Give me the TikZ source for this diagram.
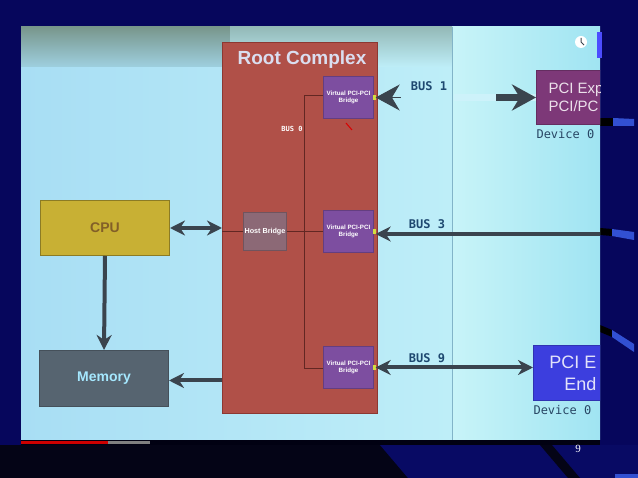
\documentclass[tikz,border=0pt]{standalone}
\usepackage{fontspec}
\setmainfont{Liberation Sans}
\setmonofont{DejaVu Sans Mono}
\newfontfamily\serifnum{Liberation Serif}
\usetikzlibrary{arrows.meta,calc}
\definecolor{navy}{RGB}{6,6,92}
\definecolor{bottomdark}{RGB}{4,4,22}
\definecolor{bandblue}{RGB}{8,10,100}
\definecolor{screenL}{RGB}{168,222,244}
\definecolor{screenR}{RGB}{190,238,248}
\definecolor{panelL}{RGB}{200,244,248}
\definecolor{panelR}{RGB}{160,228,242}
\definecolor{stripTop}{RGB}{120,150,140}
\definecolor{rcred}{RGB}{176,80,72}
\definecolor{rcedge}{RGB}{140,56,50}
\definecolor{rctitle}{RGB}{218,222,240}
\definecolor{bridgepurple}{RGB}{125,78,160}
\definecolor{hostgrey}{RGB}{140,105,118}
\definecolor{arrowgrey}{RGB}{58,68,78}
\definecolor{cpuyellow}{RGB}{200,176,52}
\definecolor{cputext}{RGB}{130,95,40}
\definecolor{memgrey}{RGB}{86,100,112}
\definecolor{memtext}{RGB}{165,232,255}
\definecolor{pcixpurple}{RGB}{125,56,120}
\definecolor{epblue}{RGB}{60,62,222}
\definecolor{bustext}{RGB}{30,72,112}
\definecolor{devtext}{RGB}{40,70,100}
\definecolor{lightshaft}{RGB}{205,242,250}
\definecolor{divider}{RGB}{130,180,200}
\definecolor{glare}{RGB}{50,80,210}
\definecolor{pinyellow}{RGB}{210,224,64}
\tikzset{
  box/.style={draw, line width=1pt, rectangle, anchor=north west, inner sep=0pt},
  bridgebox/.style={box, draw=bridgepurple!80!black, fill=bridgepurple, minimum width=50pt, minimum height=42pt,
    text=white, font=\fontsize{6.2}{7.5}\selectfont\bfseries, align=center},
  bigarrow/.style={draw=arrowgrey, line width=4pt},
  thinline/.style={draw=rcedge!70!black, line width=0.8pt},
  bustag/.style={font=\fontsize{12}{12}\selectfont\ttfamily\bfseries, text=bustext},
  devtag/.style={font=\fontsize{12}{12}\selectfont\ttfamily, text=devtext, anchor=west},
  pin/.style={fill=pinyellow, minimum width=3pt, minimum height=5pt, inner sep=0pt, rectangle},
  headS/.tip={Stealth[length=15pt,width=15pt]},
  headB/.tip={Stealth[length=24pt,width=26pt]}
}
\begin{document}
\begin{tikzpicture}[x=1pt,y=-1pt]
\useasboundingbox (0,0) rectangle (638,478);
% surroundings
\fill[navy] (0,0) rectangle (638,478);
\fill[bottomdark] (0,445) rectangle (638,478);
\fill[bandblue] (380,445) -- (638,445) -- (638,478) -- (408,478) -- cycle;
\fill[bottomdark] (540,445) -- (552,445) -- (580,478) -- (568,478) -- cycle;
\fill[glare] (615,474) rectangle (638,478);
\fill[black] (600,118) rectangle (613,126);
\fill[glare] (613,118) -- (634,119) -- (634,126) -- (613,126) -- cycle;
\fill[black] (600,228) -- (612,229) -- (612,236) -- (600,235) -- cycle;
\fill[glare] (612,229) -- (634,232) -- (634,240) -- (612,236) -- cycle;
\fill[black] (600,325) -- (612,330) -- (612,337) -- (600,332) -- cycle;
\fill[glare] (612,330) -- (634,344) -- (634,352) -- (612,337) -- cycle;
% screen
\shade[left color=screenL, right color=screenR] (21,27) rectangle (452,440);
\shade[left color=panelL, right color=panelR] (452,27) rectangle (600,440);
\shade[top color=stripTop, bottom color=screenL!80!stripTop] (21,27) rectangle (230,67);
\shade[top color=stripTop!60!screenR, bottom color=screenR] (230,27) rectangle (452,67);
\draw[divider, line width=0.8pt] (452,27) -- (452,440);
% progress bar
\fill[black!80!navy] (21,440) rectangle (600,445);
\fill[gray] (21,441) rectangle (150,444);
\fill[red!80!black] (21,441) rectangle (108,444);
\node[text=white, font=\serifnum\fontsize{11}{11}\selectfont] (pagenum) at (578,449) {9};
% player icons
\fill[blue!70!white] (597,32) rectangle (602,58);
\fill[white] (581,42) circle (6);
\draw[arrowgrey, line width=1pt] (581,38) -- (581,42) -- (584,45);

% Root complex
\node[box, draw=rcedge, fill=rcred, minimum width=155pt, minimum height=371pt] (rc) at (222,42) {};
\node[text=rctitle, font=\fontsize{19}{19}\selectfont\bfseries] (rctitle) at (302,60) {Root Complex};
\node[bridgebox] (vb1) at (323,76) {Virtual PCI-PCI\\Bridge};
\node[bridgebox] (vb2) at (323,210) {Virtual PCI-PCI\\Bridge};
\node[bridgebox] (vb3) at (323,346) {Virtual PCI-PCI\\Bridge};
\node[box, draw=hostgrey!80!black, fill=hostgrey, minimum width=43pt, minimum height=38pt, text=white,
  font=\fontsize{7.2}{9}\selectfont\bfseries] (hb) at (243,212) {Host Bridge};
\coordinate (trunktop) at (304,95);
\coordinate (trunkbot) at (304,368);
\draw[thinline] (vb1.west |- trunktop) -- (trunktop) -- (trunkbot) -- (vb3.west |- trunkbot);
\draw[thinline] (rc.west |- hb.west) -- (hb.west);
\draw[thinline] (hb.east) -- (vb2.west);
\node[text=white, font=\fontsize{7}{7}\selectfont\ttfamily\bfseries] (bus0) at (292,129) {BUS 0};
\draw[red!85!black, line width=1pt] (346,123) -- (352,130);
\node[pin] (pin1) at (vb1.east) {};
\node[pin] (pin2) at (vb2.east) {};
\node[pin] (pin3) at (vb3.east) {};

% CPU and memory
\node[box, draw=cpuyellow!70!black, fill=cpuyellow, minimum width=129pt, minimum height=55pt,
  text=cputext, font=\fontsize{14}{14}\selectfont\bfseries] (cpu) at (40,200) {CPU};
\node[box, draw=memgrey!80!black, fill=memgrey, minimum width=129pt, minimum height=56pt,
  text=memtext, font=\fontsize{14}{14}\selectfont\bfseries] (mem) at (39,350) {Memory};
\draw[bigarrow, headS-headS] (cpu.east) -- (cpu.east -| rc.west);
\draw[bigarrow, -headS] (cpu.south) -- (mem.north);
\coordinate (memin) at ($(mem.east)+(0,2)$);
\draw[bigarrow, -headS] (memin -| rc.west) -- (memin);

% right side devices
\begin{scope}
\clip (21,27) rectangle (600,440);
\node[box, draw=pcixpurple!80!black, fill=pcixpurple, minimum width=90pt, minimum height=54pt] (pcix) at (536,70) {};
\node[anchor=west, text=white!85!pcixpurple, font=\fontsize{15}{18}\selectfont, align=left] (pcixtext) at (545,97) {PCI Exp\\PCI/PC};
\node[box, draw=epblue!80!black, fill=epblue, minimum width=110pt, minimum height=55pt] (ep) at (533,345) {};
\node[anchor=east, text=white!85!epblue, font=\fontsize{18}{18}\selectfont] (eptext1) at (600,362) {PCI E};
\node[anchor=east, text=white!85!epblue, font=\fontsize{18}{18}\selectfont] (eptext2) at (600,384) {End};
\end{scope}
\node[devtag] (dev1) at (533,134) {Device 0};
\node[devtag] (dev2) at (530,410) {Device 0};

% BUS 1
\draw[lightshaft, line width=7pt] ($(pin1.east)+(78,0)$) -- (pcix.west);
\draw[draw=arrowgrey, line width=7pt, -headB] ($(pcix.west)+(-40,0)$) -- (pcix.west);
\draw[draw=arrowgrey, line width=1pt, headB-] (pin1.east) -- ++(25,0);
\node[bustag] (bus1) at (429,86) {BUS 1};
% BUS 3
\coordinate (bus3src) at (600,234);
\draw[bigarrow, -headS] (bus3src) -- (bus3src -| pin2.east);
\node[bustag] (bus3) at (427,224) {BUS 3};
% BUS 9
\draw[bigarrow, headS-headS] (pin3.east) -- (pin3.east -| ep.west);
\node[bustag] (bus9) at (427,358) {BUS 9};
\end{tikzpicture}
\end{document}
